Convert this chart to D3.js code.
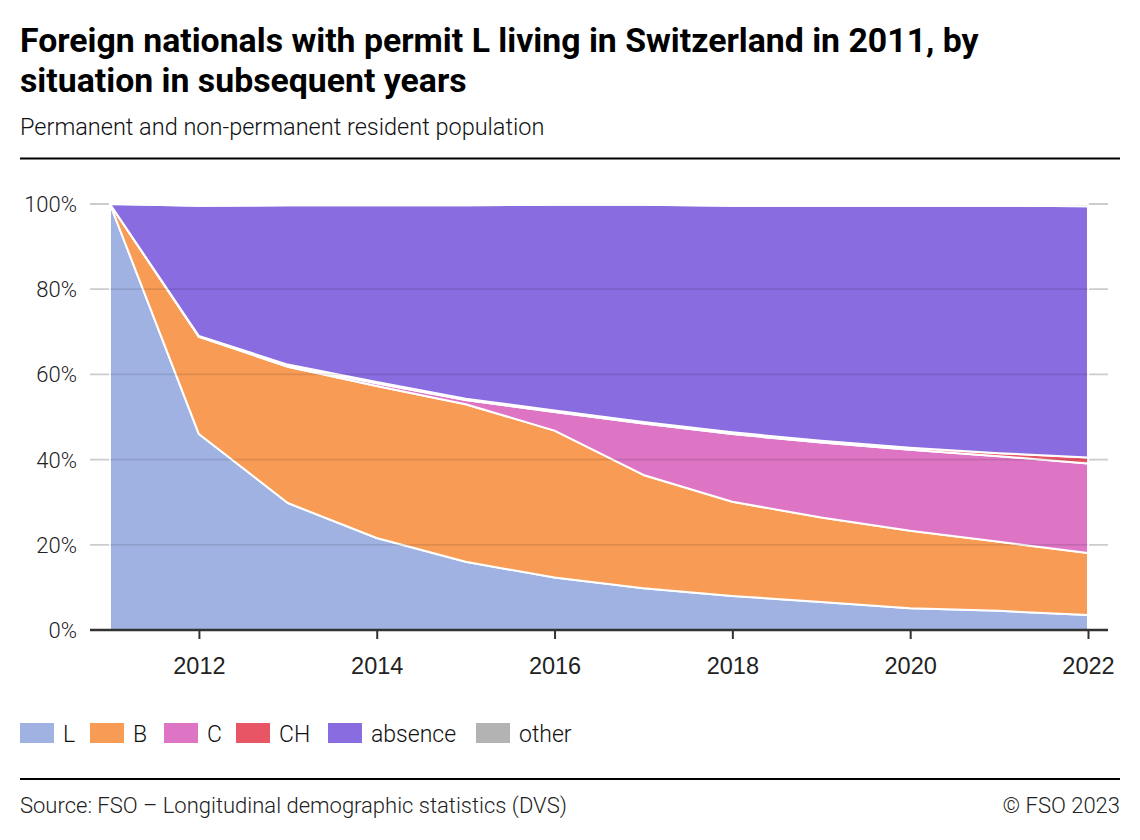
<!DOCTYPE html>
<html>
<head>
<meta charset="utf-8">
<script src="https://cdn.jsdelivr.net/npm/d3@7"></script>
<style>
body{
	margin:0;
	background:#fff;
	font-family:Roboto, "Noto Sans", sans-serif;
}
.grid line{ stroke:#cccccc; stroke-width:1.8; }
.grid-over line{ stroke:#000; stroke-opacity:0.1; stroke-width:1.8; }
.axis text{ font-weight:300; fill:#222; }
</style>
</head>
<body>
<svg id="chart" width="1140" height="840"></svg>
<script>
// data (% of people with permit L in 2011)
var years = [2011,2012,2013,2014,2015,2016,2017,2018,2019,2020,2021,2022];
var seriesKeys = ['L','B','C','CH','absence','other'];
var valL  = [100, 46.0, 29.8, 21.6, 16.0, 12.3,  9.8,  8.0,  6.6,  5.1,  4.5,  3.5];
var valB  = [0,   22.8, 32.0, 35.7, 37.0, 34.5, 26.6, 22.1, 19.8, 18.2, 16.2, 14.6];
var valC  = [0,    0.1,  0.3,  0.6,  1.0,  4.4, 12.1, 15.9, 17.6, 19.0, 20.1, 21.0];
var valCH = [0,    0.1,  0.2,  0.3,  0.3,  0.3,  0.3,  0.4,  0.4,  0.5,  0.7,  1.4];
var valOther = [0, 0.4,  0.3,  0.3,  0.3,  0.2,  0.2,  0.4,  0.4,  0.4,  0.4,  0.5];
var yTicks = [0,20,40,60,80,100];
var xTicks = [2012,2014,2016,2018,2020,2022];
var colors = {L:'#9fb2e2', B:'#f79b55', C:'#dd74c4', CH:'#e85666', absence:'#886ce0', other:'#b3b3b3'};

var rows = years.map(function(y,i){
	var r = {year:y, L:valL[i], B:valB[i], C:valC[i], CH:valCH[i], other:valOther[i]};
	r.absence = 100 - r.L - r.B - r.C - r.CH - r.other;
	return r;
});

var svg = d3.select('#chart');

// title block
var title = svg.append('text').attr('x',20).attr('y',52)
	.style('font-size','33.8px').style('font-weight','700').style('fill','#000');
title.append('tspan').attr('x',20).text('Foreign nationals with permit L living in Switzerland in 2011, by');
title.append('tspan').attr('x',20).attr('dy',39.5).text('situation in subsequent years');
svg.append('text').attr('x',20).attr('y',134.5)
	.style('font-size','23.5px').style('font-weight','300').style('fill','#111')
	.text('Permanent and non-permanent resident population');
svg.append('rect').attr('x',20).attr('y',157.5).attr('width',1100).attr('height',2).attr('fill','#000');

var x = d3.scaleLinear().domain([2011,2022]).range([110,1088]);
var y = d3.scaleLinear().domain([0,100]).range([630,204]);
var gridVals = yTicks.filter(function(d){return d>0;});

// grid
svg.append('g').attr('class','grid')
	.selectAll('line').data(gridVals).enter().append('line')
	.attr('x1',90).attr('x2',1108)
	.attr('y1',function(d){return y(d);}).attr('y2',function(d){return y(d);});

var stack = d3.stack().keys(seriesKeys);
var layers = stack(rows);

var area = d3.area()
	.x(function(d){return x(d.data.year);})
	.y0(function(d){return y(d[0]);})
	.y1(function(d){return y(d[1]);});

svg.append('g').selectAll('path').data(layers).enter().append('path')
	.attr('d',area)
	.attr('fill',function(d){return colors[d.key];})
	.attr('stroke','#fff')
	.attr('stroke-width',2)
	.attr('stroke-linejoin','round');

// grid shows through the areas
svg.append('g').attr('class','grid-over')
	.selectAll('line').data(gridVals.filter(function(d){return d<100;})).enter().append('line')
	.attr('x1',x(2011)).attr('x2',x(2022))
	.attr('y1',function(d){return y(d);}).attr('y2',function(d){return y(d);});

// y axis labels
svg.append('g').attr('class','axis')
	.selectAll('text').data(yTicks).enter().append('text')
	.attr('x',77).attr('y',function(d){return y(d)+8;})
	.attr('text-anchor','end')
	.style('font-size','22px')
	.text(function(d){return d+'%';});

// x axis
var xAxis = d3.axisBottom(x).tickValues(xTicks).tickFormat(d3.format('d')).tickSize(9).tickPadding(18);
var gx = svg.append('g').attr('class','axis').attr('transform','translate(0,630)').call(xAxis);
gx.select('.domain').remove();
gx.selectAll('.tick line').attr('stroke','#333').attr('stroke-width',2);
gx.selectAll('.tick text').style('font-size','23.5px').attr('font-family',null);
gx.append('line').attr('x1',90).attr('x2',1108).attr('stroke','#333').attr('stroke-width',2.5);

// legend
var legendX = [20,90,164,236,328,476];
var leg = svg.append('g').selectAll('g').data(seriesKeys).enter().append('g')
	.attr('transform',function(d,i){return 'translate('+legendX[i]+',723)';});
leg.append('rect').attr('width',34).attr('height',20).attr('fill',function(d){return colors[d];});
leg.append('text').attr('x',43).attr('y',18.5)
	.style('font-size','23px').style('font-weight','300').style('fill','#111')
	.text(function(d){return d;});

svg.append('rect').attr('x',20).attr('y',778).attr('width',1100).attr('height',2).attr('fill','#000');
svg.append('text').attr('x',20).attr('y',813)
	.style('font-size','22px').style('font-weight','300').style('fill','#222')
	.text('Source: FSO – Longitudinal demographic statistics (DVS)');
svg.append('text').attr('x',1120).attr('y',813).attr('text-anchor','end')
	.style('font-size','22px').style('font-weight','300').style('fill','#222')
	.text('© FSO 2023');
</script>
</body>
</html>
